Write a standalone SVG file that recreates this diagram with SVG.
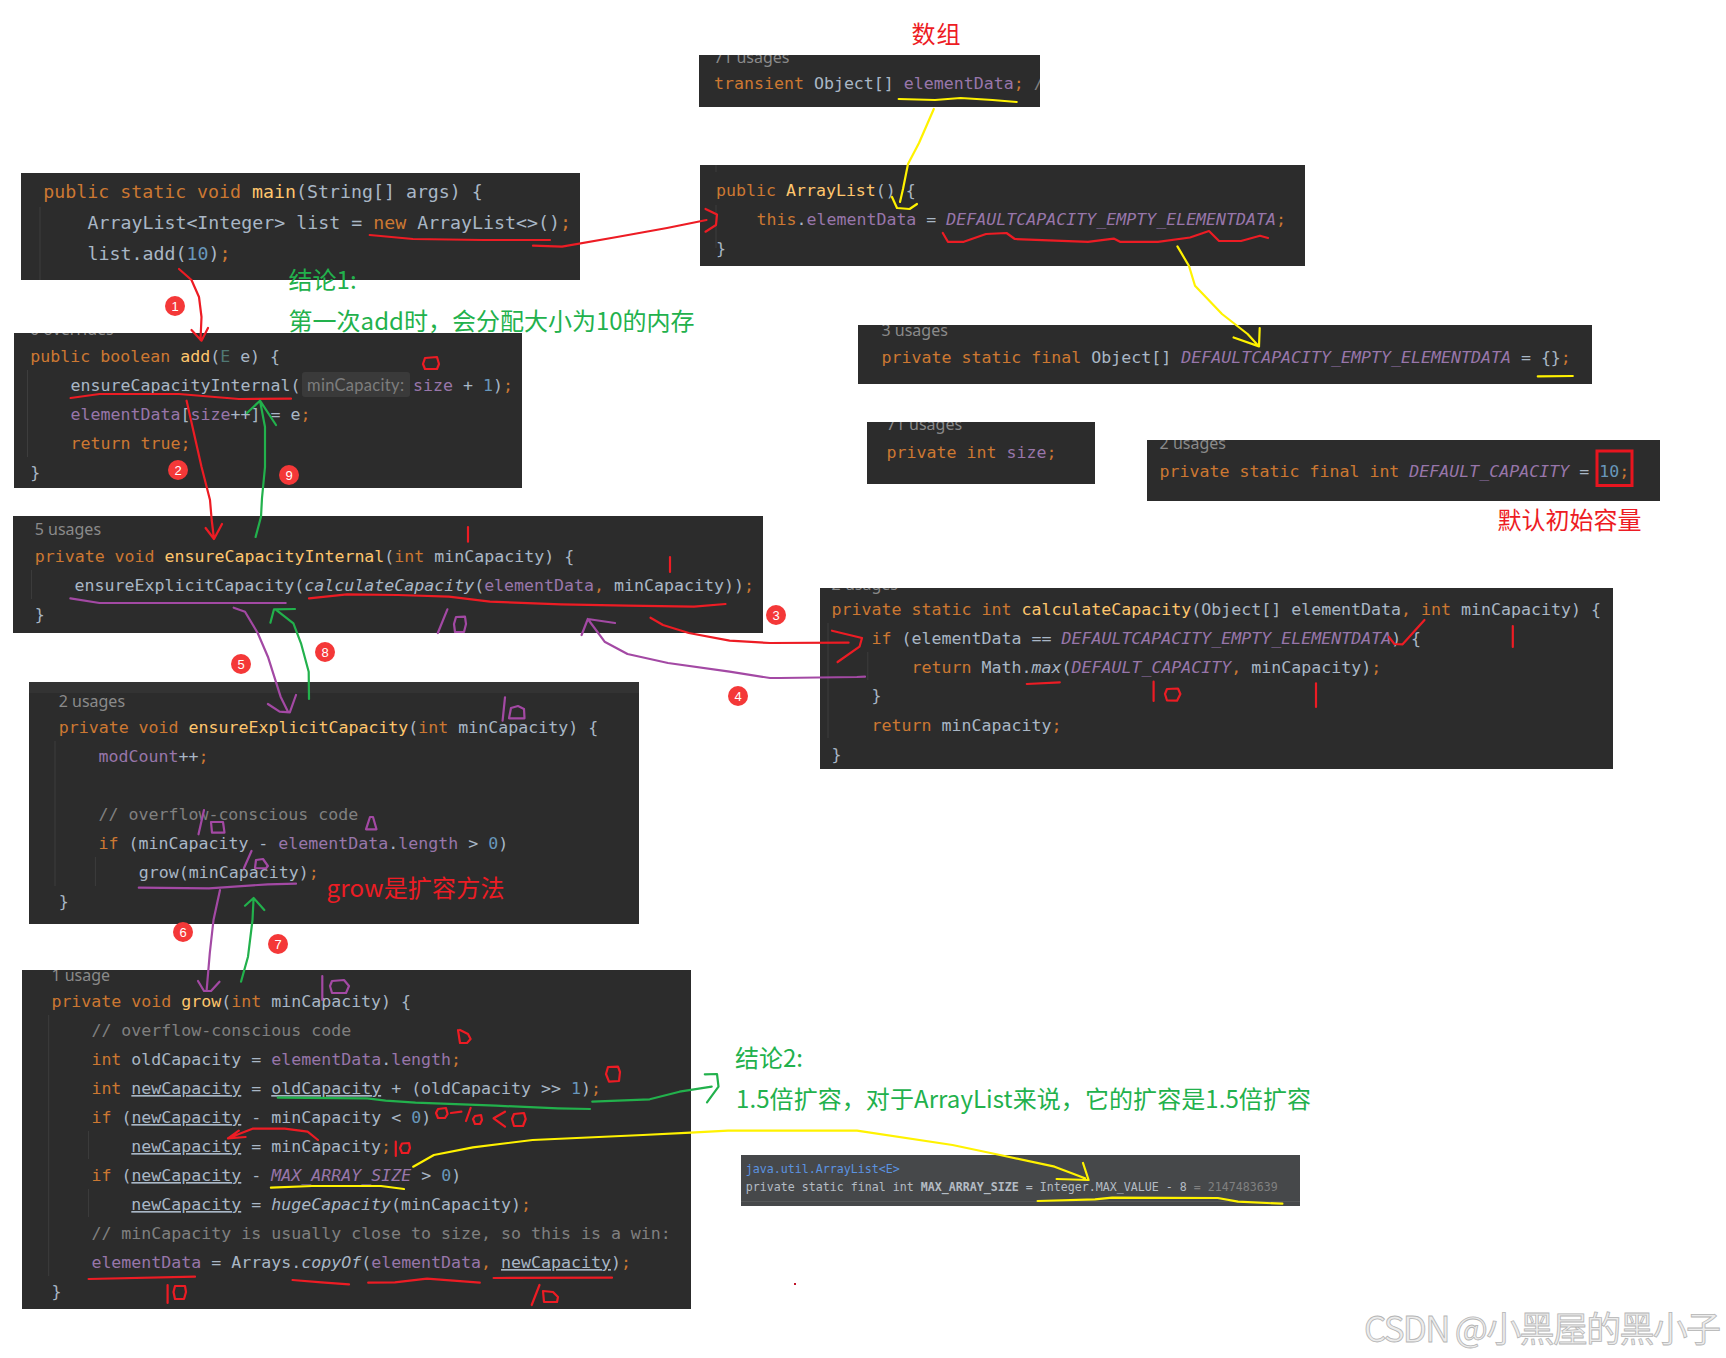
<svg xmlns="http://www.w3.org/2000/svg" width="1726" height="1358" viewBox="0 0 1726 1358">
<style>
.bg{fill:#2c2c2c}
.code{font-family:"DejaVu Sans Mono","Liberation Mono",monospace;font-size:16.6px;fill:#a9b7c6;white-space:pre}
.big{font-size:18.25px}
.tiny{font-size:11.63px}
.k{fill:#cc7832}.m{fill:#ffc66d}.f{fill:#9876aa}.n{fill:#6897bb}.c{fill:#808080}.t{fill:#507874}
.i{font-style:italic}.u{text-decoration:underline}
.use{font-family:"Noto Sans","Liberation Sans",sans-serif;font-size:16px;fill:#8a8a8a}
.guide{stroke:#3d3d3d;stroke-width:1;fill:none}
.r,.y,.pu,.g{fill:none;stroke-width:2.2;stroke-linecap:round;stroke-linejoin:round}
.r{stroke:#ed1c24}.y{stroke:#fff200}.pu{stroke:#a349a4}.g{stroke:#22b14c}
.lab{font-family:"Noto Sans CJK SC","Liberation Sans",sans-serif;font-size:24px}
.lr{fill:#ed1c24}.lg{fill:#22b14c}
.dot{fill:#f43838}
.num{font-family:"Liberation Sans",sans-serif;font-size:13px;fill:#fff;text-anchor:middle}
</style>
<defs>
<clipPath id="cb"><rect x="14" y="333" width="508" height="155"/></clipPath>
<clipPath id="cc"><rect x="699" y="55" width="341" height="52"/></clipPath>
<clipPath id="ce"><rect x="858" y="325" width="734" height="59"/></clipPath>
<clipPath id="cf"><rect x="867" y="422" width="228" height="62"/></clipPath>
<clipPath id="cg"><rect x="1147" y="440" width="513" height="61"/></clipPath>
<clipPath id="cj"><rect x="820" y="588" width="793" height="181"/></clipPath>
<clipPath id="ck"><rect x="22" y="970" width="669" height="339"/></clipPath>
</defs>
<rect width="1726" height="1358" fill="#fff"/>

<g id="panel-main">
<rect class="bg" x="21" y="173" width="559" height="107"/>
<path class="guide" d="M40 207V280"/>
<text class="code big" x="43.3" y="198"><tspan class="k">public static void </tspan><tspan class="m">main</tspan>(String[] args) {</text>
<text class="code big" x="87.5" y="229">ArrayList&lt;Integer&gt; list = <tspan class="k">new </tspan>ArrayList&lt;&gt;()<tspan class="k">;</tspan></text>
<text class="code big" x="87.5" y="260">list.add(<tspan class="n">10</tspan>)<tspan class="k">;</tspan></text>
</g>

<g id="panel-add" clip-path="url(#cb)">
<rect class="bg" x="14" y="333" width="508" height="155"/>
<path class="guide" d="M27.5 370V457"/>
<text class="use" x="30" y="335">6 overrides</text>
<text class="code" x="30.3" y="362"><tspan class="k">public boolean </tspan><tspan class="m">add</tspan>(<tspan class="t">E</tspan> e) {</text>
<text class="code" x="70.6" y="391">ensureCapacityInternal(</text>
<rect x="302" y="372" width="108" height="25" rx="3" fill="#3a3a3a"/>
<text x="307" y="391" font-family="Lato,'Noto Sans',sans-serif" font-size="16.5" fill="#7d7d7d" textLength="97">minCapacity:</text>
<text class="code" x="413" y="391"><tspan class="f">size</tspan> + <tspan class="n">1</tspan>)<tspan class="k">;</tspan></text>
<text class="code" x="70.6" y="420"><tspan class="f">elementData</tspan>[<tspan class="f">size</tspan>++] = e<tspan class="k">;</tspan></text>
<text class="code" x="70.6" y="449"><tspan class="k">return true;</tspan></text>
<text class="code" x="30.3" y="478">}</text>
</g>

<g id="panel-elementdata" clip-path="url(#cc)">
<rect class="bg" x="699" y="55" width="341" height="52"/>
<text class="use" x="714" y="62.5">71 usages</text>
<text class="code" x="714" y="89"><tspan class="k">transient </tspan>Object[] <tspan class="f">elementData</tspan><tspan class="k">; </tspan><tspan class="c">/</tspan></text>
</g>

<g id="panel-constructor">
<rect class="bg" x="700" y="165" width="605" height="101"/>
<path class="guide" d="M716 165V172M716 205V248"/>
<text class="code" x="716" y="196"><tspan class="k">public </tspan><tspan class="m">ArrayList</tspan>() {</text>
<text class="code" x="756.5" y="225"><tspan class="k">this</tspan>.<tspan class="f">elementData</tspan> = <tspan class="f i">DEFAULTCAPACITY_EMPTY_ELEMENTDATA</tspan><tspan class="k">;</tspan></text>
<text class="code" x="716" y="254">}</text>
</g>

<g id="panel-empty" clip-path="url(#ce)">
<rect class="bg" x="858" y="325" width="734" height="59"/>
<text class="use" x="881.5" y="336">3 usages</text>
<text class="code" x="881.5" y="363"><tspan class="k">private static final </tspan>Object[] <tspan class="f i">DEFAULTCAPACITY_EMPTY_ELEMENTDATA</tspan> = {}<tspan class="k">;</tspan></text>
</g>

<g id="panel-size" clip-path="url(#cf)">
<rect class="bg" x="867" y="422" width="228" height="62"/>
<text class="use" x="886.6" y="430">71 usages</text>
<text class="code" x="886.6" y="458"><tspan class="k">private int </tspan><tspan class="f">size</tspan><tspan class="k">;</tspan></text>
</g>

<g id="panel-default" clip-path="url(#cg)">
<rect class="bg" x="1147" y="440" width="513" height="61"/>
<text class="use" x="1159.6" y="449">2 usages</text>
<text class="code" x="1159.6" y="477"><tspan class="k">private static final int </tspan><tspan class="f i">DEFAULT_CAPACITY</tspan> = <tspan class="n">10</tspan><tspan class="k">;</tspan></text>
<rect x="1597" y="451" width="35" height="34.500" fill="none" stroke="#e8151f" stroke-width="3"/>
</g>

<g id="panel-internal">
<rect class="bg" x="13" y="516" width="750" height="117"/>
<path class="guide" d="M31.600 570V599"/>
<text class="use" x="34.700" y="535">5 usages</text>
<text class="code" x="34.700" y="562"><tspan class="k">private void </tspan><tspan class="m">ensureCapacityInternal</tspan>(<tspan class="k">int </tspan>minCapacity) {</text>
<text class="code" x="74.500" y="591">ensureExplicitCapacity(<tspan class="i">calculateCapacity</tspan>(<tspan class="f">elementData</tspan><tspan class="k">, </tspan>minCapacity))<tspan class="k">;</tspan></text>
<text class="code" x="34.700" y="620">}</text>
</g>

<g id="panel-explicit">
<rect class="bg" x="29" y="682" width="610" height="242"/>
<rect x="29" y="682" width="610" height="11" fill="#333"/>
<path class="guide" d="M55 741V886M95.400 857V886"/>
<text class="use" x="58.700" y="707">2 usages</text>
<text class="code" x="58.700" y="733"><tspan class="k">private void </tspan><tspan class="m">ensureExplicitCapacity</tspan>(<tspan class="k">int </tspan>minCapacity) {</text>
<text class="code" x="98.500" y="762"><tspan class="f">modCount</tspan>++<tspan class="k">;</tspan></text>
<text class="code c" x="98.500" y="820">// overflow-conscious code</text>
<text class="code" x="98.500" y="849"><tspan class="k">if </tspan>(minCapacity - <tspan class="f">elementData</tspan>.<tspan class="f">length</tspan> &gt; <tspan class="n">0</tspan>)</text>
<text class="code" x="138.800" y="878">grow(minCapacity)<tspan class="k">;</tspan></text>
<text class="code" x="58.700" y="907">}</text>
</g>

<g id="panel-calculate" clip-path="url(#cj)">
<rect class="bg" x="820" y="588" width="793" height="181"/>
<path class="guide" d="M828 623V738M867.800 652V680"/>
<text class="use" x="831.600" y="590">2 usages</text>
<text class="code" x="831.600" y="615"><tspan class="k">private static int </tspan><tspan class="m">calculateCapacity</tspan>(Object[] elementData<tspan class="k">, int </tspan>minCapacity) {</text>
<text class="code" x="871.600" y="643.500"><tspan class="k">if </tspan>(elementData == <tspan class="f i">DEFAULTCAPACITY_EMPTY_ELEMENTDATA</tspan>) {</text>
<text class="code" x="911.600" y="672.700"><tspan class="k">return </tspan>Math.<tspan class="i">max</tspan>(<tspan class="f i">DEFAULT_CAPACITY</tspan><tspan class="k">, </tspan>minCapacity)<tspan class="k">;</tspan></text>
<text class="code" x="871.600" y="701">}</text>
<text class="code" x="871.600" y="730.700"><tspan class="k">return </tspan>minCapacity<tspan class="k">;</tspan></text>
<text class="code" x="831.600" y="760">}</text>
</g>

<g id="panel-grow" clip-path="url(#ck)">
<rect class="bg" x="22" y="970" width="669" height="339"/>
<path class="guide" d="M48.700 1015V1276M88.600 1131V1159M88.600 1189V1217"/>
<text class="use" x="51.400" y="981">1 usage</text>
<text class="code" x="51.400" y="1007"><tspan class="k">private void </tspan><tspan class="m">grow</tspan>(<tspan class="k">int </tspan>minCapacity) {</text>
<text class="code c" x="91.400" y="1036">// overflow-conscious code</text>
<text class="code" x="91.400" y="1065"><tspan class="k">int </tspan>oldCapacity = <tspan class="f">elementData</tspan>.<tspan class="f">length</tspan><tspan class="k">;</tspan></text>
<text class="code" x="91.400" y="1094"><tspan class="k">int </tspan><tspan class="u">newCapacity</tspan> = <tspan class="u">oldCapacity</tspan> + (oldCapacity &gt;&gt; <tspan class="n">1</tspan>)<tspan class="k">;</tspan></text>
<text class="code" x="91.400" y="1123"><tspan class="k">if </tspan>(<tspan class="u">newCapacity</tspan> - minCapacity &lt; <tspan class="n">0</tspan>)</text>
<text class="code" x="131.300" y="1152"><tspan class="u">newCapacity</tspan> = minCapacity<tspan class="k">;</tspan></text>
<text class="code" x="91.400" y="1181"><tspan class="k">if </tspan>(<tspan class="u">newCapacity</tspan> - <tspan class="f i">MAX_ARRAY_SIZE</tspan> &gt; <tspan class="n">0</tspan>)</text>
<text class="code" x="131.300" y="1210"><tspan class="u">newCapacity</tspan> = <tspan class="i">hugeCapacity</tspan>(minCapacity)<tspan class="k">;</tspan></text>
<text class="code c" x="91.400" y="1239">// minCapacity is usually close to size, so this is a win:</text>
<text class="code" x="91.400" y="1268"><tspan class="f">elementData</tspan> = Arrays.<tspan class="i">copyOf</tspan>(<tspan class="f">elementData</tspan><tspan class="k">, </tspan><tspan class="u">newCapacity</tspan>)<tspan class="k">;</tspan></text>
<text class="code" x="51.400" y="1297">}</text>
</g>

<g id="panel-popup">
<rect x="741" y="1155" width="559" height="51" fill="#46484a"/>
<path d="M741 1201.500H1300" stroke="#555758" fill="none"/>
<text class="code tiny" x="745.700" y="1173" style="fill:#5b93e0">java.util.ArrayList&lt;E&gt;</text>
<text class="code tiny" x="745.700" y="1190.700" style="fill:#b4bcc4">private static final int <tspan font-weight="bold">MAX_ARRAY_SIZE</tspan> = Integer.MAX_VALUE - 8 <tspan class="c">= 2147483639</tspan></text>
</g>

<g id="connectors">
<!-- red -->
<path class="r" d="M179 269L191.500 280L199 297L201.500 317L200.500 340M191.500 330L201.500 340.700L208 328"/>
<path class="r" d="M369.700 235L413 239L482.600 240L550 240"/>
<path class="r" d="M533 245.700L562 246.700L617 237L667 228L706.500 220M705.500 209L717 214.500L716 225L705.500 231.700"/>
<path class="r" d="M70.600 398L99.500 394L179 394L239 399L291 398.700"/>
<path class="r" d="M186.600 400.700L201.500 466.700L210 500L211.700 520L214 539M205.600 528L214 539L222 524"/>
<path class="r" d="M942.800 233L947.900 241.800L963.800 241.800L986 234L1006.500 233L1014.800 239L1088 241.800L1113.700 238.600L1120 241.800L1158 241.800L1190 237.500L1209 231L1219 241L1241 241L1260 235.700L1268 238"/>
<path class="r" d="M309 598.300L347 594.300L398 595L449 596.700L490 601.700L561 604.300L627.500 605.700L694 606.700L725.500 604"/>
<path class="r" d="M468 527V541.700M670 557V572"/>
<path class="r" d="M650.500 617.700L663 625L688.800 633L729.600 640.700L770 643L848.600 642.700M832 630.700L862 638L859.500 646.700L837.600 662"/>
<path class="r" d="M1389 637L1394.400 644L1402.600 644.300L1424.500 620"/>
<path class="r" d="M1512.800 626V647M1316 683.300V707M1153.600 681.700V701"/>
<path class="r" d="M1026.800 684L1059.800 682.300"/>
<path class="r" d="M1167 689L1178 688.500L1180.400 694L1177 700.700L1167 700.500L1165 694Z"/>
<path class="r" d="M425 358L437 357L439 364L437 369L425 369L423 364Z"/>
<path class="r" d="M460 1030L468 1034L470.600 1039L467 1043L460 1043L458 1030"/>
<path class="r" d="M608 1067L618 1066.700L620 1072L619 1081L609 1081.700L606 1074Z"/>
<path class="r" d="M438 1109L446 1108L447.600 1114L445 1118L438 1118L436 1113ZM451 1113L461.400 1111.700M470.600 1108L466 1121M475 1116L481 1115L482 1120L480 1124L475 1124L473 1119ZM505 1111.700L493.600 1118.300L505 1126.700M514 1114L524 1113L525.700 1119L523 1126L514 1126L512 1119Z"/>
<path class="r" d="M318 1140L307.600 1131.700L284.700 1128.700L252.500 1128.700L228 1138.300L245.600 1137M228 1138.300L238.800 1130.700"/>
<path class="r" d="M395.800 1141.700V1156M402 1143.500L409 1143L410 1148L408 1153L402 1153L400 1148Z"/>
<path class="r" d="M88.600 1279L195 1276.700M292.500 1280L321.400 1282.300L349 1284.300M368.200 1282.700L394.900 1282.300L427 1278.700L479.800 1282.700M493.600 1278L612 1277.700"/>
<path class="r" d="M167.600 1285V1303M175 1286L185 1286L186 1292L184 1299L175 1299L173.500 1292Z"/>
<path class="r" d="M539.500 1285L531.700 1305M543 1291L553 1292L558 1297L557 1302L544 1302Z"/>
<rect x="794" y="1283" width="2" height="2" fill="#c0142a"/>
<!-- yellow -->
<path class="y" d="M898.700 99L935 100L960.600 98L992.500 100L1016.700 102"/>
<path class="y" d="M933.800 109L919 143L908 164L903 189L900 202M892 197L897 208L909.600 209L917 204"/>
<path class="y" d="M1177.400 246.400L1189 266L1195 285.700L1222 314L1247.600 334L1259 346.400M1233.600 337.500L1259 346.400L1259.700 328"/>
<path class="y" d="M1537.800 376.400L1572.800 376"/>
<path class="y" d="M413.200 1166.700L433.900 1155L472.900 1147.300L532.600 1140L642.800 1135L690.600 1132.700L728 1130.700L857 1130.700L952.500 1145L1000 1155L1054.600 1166.700L1085 1178.300M1083 1163L1088.600 1180L1056.600 1179"/>
<path class="y" d="M270.900 1187.700L312 1186L381 1186L404 1189"/>
<path class="y" d="M1037.600 1201L1095 1199.300L1112 1197.700L1217.800 1198L1238 1201.700L1282.400 1203.700"/>
<!-- purple -->
<path class="pu" d="M70.400 598.300L99.500 603L285.700 603"/>
<path class="pu" d="M447.400 609.300L437.800 633M456 617L465 616.700L466 624L464 632L455 632L454 624Z"/>
<path class="pu" d="M865 676.700L856.800 677L780 678L770 678L729.600 671.700L668 663L627.500 654L604.600 641.700L587.800 619M581.600 635L587.800 619L615 623"/>
<path class="pu" d="M233.700 607.700L245 611.700L257.700 633L267.900 656.700L280.600 696.700L288 711.700M267.900 704L279.600 711.700L289.800 712.300L296 695"/>
<path class="pu" d="M505 697.300L502.600 720.700M511 708L518 706L524 709L524.500 718.300L509 718.300Z"/>
<path class="pu" d="M204 810L198.500 834.300M211 822L223 822L224.500 832.700L212 832.700Z"/>
<path class="pu" d="M370 817L373 817L376.500 829.300L366 829.300Z"/>
<path class="pu" d="M251.500 851L243.900 868.300M256 860L263 859L267.900 866L266 868.300L255 868Z"/>
<path class="pu" d="M138.800 887.700L209 888.300L267.900 884.300L296 883.700"/>
<path class="pu" d="M220 890L213.500 920L209.800 953L206.600 990.700M198 981L204 991L211 991L219.500 981.700"/>
<path class="pu" d="M322.300 976V1000M332 981L344 980L349 986L346 993L332 993L330 986Z"/>
<!-- green -->
<path class="g" d="M255.600 537L261 516.700L262 498L265 467L265 427L260 400.700M247 413L260 400.700L276 425"/>
<path class="g" d="M309 699L308.700 671.700L301 643.300L293.400 623.300L275.500 609.300M270.400 622.700L274 609.300L295 609"/>
<path class="g" d="M241 981.700L248 956.700L252.500 920L253.600 898M245 905.700L253.600 898L264.300 910"/>
<path class="g" d="M277.800 1097.700L367.300 1098.300L385.700 1100.700L415.500 1102.700L495.900 1105.700L557.900 1108.300L590 1109"/>
<path class="g" d="M592.300 1101.700L649.700 1099.300L679.500 1091.700L711.700 1086.700M704.800 1074.300L717 1074L718.500 1086.700L707 1102.300"/>
</g>

<g id="label-array"><text class="lab lr" x="911.500" y="43" textLength="49">数组</text></g>
<g id="label-default"><text class="lab lr" x="1497.600" y="529" textLength="144">默认初始容量</text></g>
<g id="label-grow"><text class="lab lr" x="326.500" y="897" textLength="178">grow是扩容方法</text></g>
<g id="label-conclusion1">
<text class="lab lg" x="288.600" y="289">结论1:</text>
<text class="lab lg" x="288.600" y="330" textLength="406">第一次add时，会分配大小为10的内存</text>
</g>
<g id="label-conclusion2">
<text class="lab lg" x="735" y="1067">结论2:</text>
<text class="lab lg" x="736" y="1108" textLength="575">1.5倍扩容，对于ArrayList来说，它的扩容是1.5倍扩容</text>
</g>

<g id="step-1"><circle class="dot" cx="175" cy="306" r="10"/><text class="num" x="175" y="310.500">1</text></g>
<g id="step-2"><circle class="dot" cx="178" cy="470" r="10"/><text class="num" x="178" y="474.500">2</text></g>
<g id="step-3"><circle class="dot" cx="776" cy="615" r="10"/><text class="num" x="776" y="619.500">3</text></g>
<g id="step-4"><circle class="dot" cx="738" cy="696" r="10"/><text class="num" x="738" y="700.500">4</text></g>
<g id="step-5"><circle class="dot" cx="241" cy="664" r="10"/><text class="num" x="241" y="668.500">5</text></g>
<g id="step-6"><circle class="dot" cx="183" cy="932" r="10"/><text class="num" x="183" y="936.500">6</text></g>
<g id="step-7"><circle class="dot" cx="278" cy="944" r="10"/><text class="num" x="278" y="948.500">7</text></g>
<g id="step-8"><circle class="dot" cx="325" cy="652" r="10"/><text class="num" x="325" y="656.500">8</text></g>
<g id="step-9"><circle class="dot" cx="289" cy="475" r="10"/><text class="num" x="289" y="479.500">9</text></g>

<g id="watermark"><text x="1364" y="1342" font-family="'Noto Sans CJK SC','Liberation Sans',sans-serif" font-size="35" textLength="357" fill="#ececec" stroke="#b5b5b5" stroke-width="0.8">CSDN @小黑屋的黑小子</text></g>
</svg>
